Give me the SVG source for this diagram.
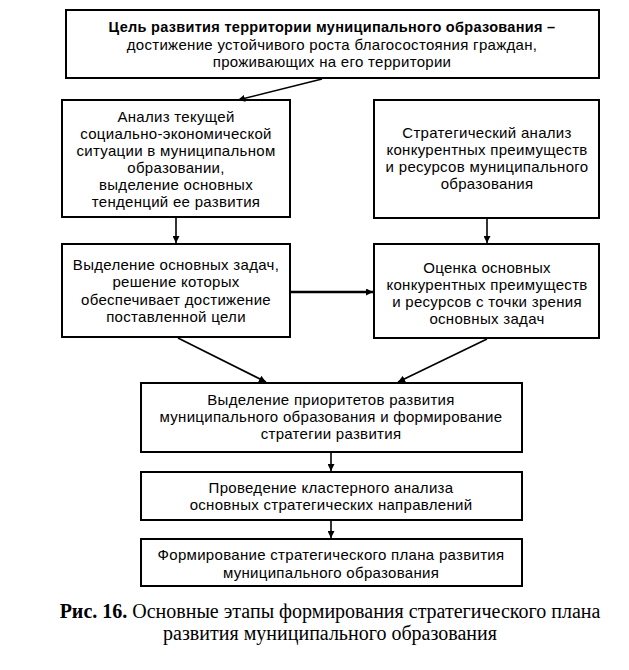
<svg xmlns="http://www.w3.org/2000/svg" width="629" height="670" viewBox="0 0 629 670">
<defs>
<style>
.box{fill:#fff;stroke:#000;stroke-width:2}
.t{font-family:"Liberation Sans",Arial,sans-serif;font-size:15px;letter-spacing:0.3px;fill:#000;text-anchor:middle}
.b{font-weight:bold;font-size:14.5px}
.c{stroke:#000;stroke-width:1.6;fill:none;marker-end:url(#ah)}
.cap{font-family:"Liberation Serif","Times New Roman",serif;font-size:20px;fill:#000;text-anchor:middle}
</style>
<marker id="ah" viewBox="0 0 10 10" refX="10" refY="5" markerWidth="7" markerHeight="7" markerUnits="userSpaceOnUse" orient="auto">
<path d="M0,0 L10,5 L0,10 z" fill="#000"/>
</marker>
</defs>
<rect width="629" height="670" fill="#fff"/>
<g id="n1">
<rect class="box" x="66" y="10" width="533" height="68"/>
<text class="t b" x="332" y="32">Цель развития территории муниципального образования –</text>
<text class="t" x="332" y="50">достижение устойчивого роста благосостояния граждан,</text>
<text class="t" x="332" y="67">проживающих на его территории</text>
</g>
<g id="n2">
<rect class="box" x="62" y="100" width="228" height="117"/>
<text class="t" x="176" y="122">Анализ текущей</text>
<text class="t" x="176" y="139">социально-экономической</text>
<text class="t" x="176" y="156">ситуации в муниципальном</text>
<text class="t" x="176" y="173">образовании,</text>
<text class="t" x="176" y="190">выделение основных</text>
<text class="t" x="176" y="207">тенденций ее развития</text>
</g>
<g id="n3">
<rect class="box" x="374" y="100" width="225" height="118"/>
<text class="t" x="487" y="138">Стратегический анализ</text>
<text class="t" x="487" y="155">конкурентных преимуществ</text>
<text class="t" x="487" y="172">и ресурсов муниципального</text>
<text class="t" x="487" y="189">образования</text>
</g>
<g id="n4">
<rect class="box" x="62" y="244" width="228" height="93"/>
<text class="t" x="176" y="270">Выделение основных задач,</text>
<text class="t" x="176" y="287">решение которых</text>
<text class="t" x="176" y="305">обеспечивает достижение</text>
<text class="t" x="176" y="322">поставленной цели</text>
</g>
<g id="n5">
<rect class="box" x="374" y="244" width="225" height="94"/>
<text class="t" x="487" y="273">Оценка основных</text>
<text class="t" x="487" y="290">конкурентных преимуществ</text>
<text class="t" x="487" y="307">и ресурсов с точки зрения</text>
<text class="t" x="487" y="324">основных задач</text>
</g>
<g id="n6">
<rect class="box" x="141" y="383" width="381" height="69"/>
<text class="t" x="331" y="405">Выделение приоритетов развития</text>
<text class="t" x="331" y="422">муниципального образования и формирование</text>
<text class="t" x="331" y="439">стратегии развития</text>
</g>
<g id="n7">
<rect class="box" x="141" y="472" width="381" height="48"/>
<text class="t" x="331" y="493">Проведение кластерного анализа</text>
<text class="t" x="331" y="510">основных стратегических направлений</text>
</g>
<g id="n8">
<rect class="box" x="141" y="539" width="381" height="47"/>
<text class="t" x="331" y="560">Формирование стратегического плана развития</text>
<text class="t" x="331" y="578">муниципального образования</text>
</g>
<g id="connectors">
<line class="c" x1="322" y1="79" x2="238" y2="100"/>
<line class="c" x1="176" y1="217" x2="176" y2="243"/>
<line class="c" x1="487" y1="218" x2="487" y2="243"/>
<line class="c" x1="290" y1="292" x2="373" y2="292" style="stroke-width:2.5"/>
<line class="c" x1="178" y1="338" x2="266" y2="382"/>
<line class="c" x1="487" y1="339" x2="398" y2="382"/>
<line class="c" x1="331" y1="452" x2="331" y2="471"/>
<line class="c" x1="331" y1="520" x2="331" y2="538"/>
</g>
<g id="caption">
<text class="cap" x="330" y="618"><tspan font-weight="bold">Рис. 16.</tspan> Основные этапы формирования стратегического плана</text>
<text class="cap" x="330" y="640">развития муниципального образования</text>
</g>
</svg>
